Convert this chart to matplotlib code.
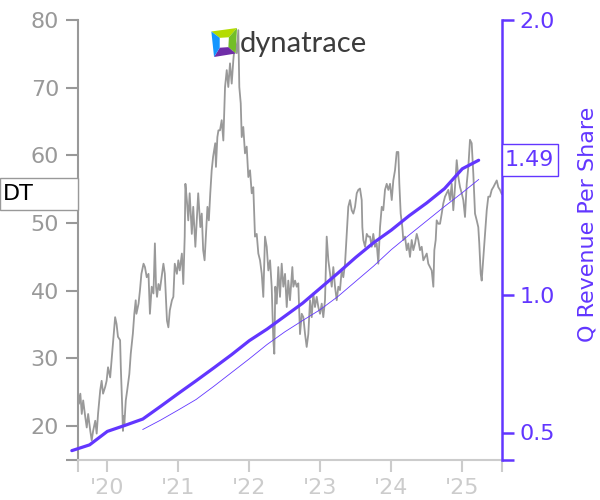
import matplotlib
matplotlib.use("Agg")
import matplotlib.pyplot as plt
import matplotlib.transforms as mtransforms
from matplotlib.patches import Polygon, Rectangle

PURPLE = "#6236FF"
GRAY = "#999999"
LIGHT = "#cccccc"

# DT share price (decimal year, USD)
price_years = [
	2019.58, 2019.60, 2019.62, 2019.64, 2019.66, 2019.69, 2019.71, 2019.73, 2019.76, 2019.78,
	2019.80, 2019.83, 2019.85, 2019.87, 2019.90, 2019.92, 2019.94, 2019.97, 2019.99, 2020.01,
	2020.04, 2020.06, 2020.08, 2020.11, 2020.13, 2020.15, 2020.18, 2020.19, 2020.21, 2020.22,
	2020.23, 2020.24, 2020.26, 2020.28, 2020.31, 2020.33, 2020.36, 2020.38, 2020.40, 2020.41,
	2020.44, 2020.46, 2020.48, 2020.51,
	2020.53, 2020.555, 2020.58, 2020.60, 2020.625, 2020.65, 2020.67, 2020.686, 2020.70, 2020.72,
	2020.74, 2020.77, 2020.79, 2020.81, 2020.84, 2020.86, 2020.88, 2020.91, 2020.93, 2020.95,
	2020.98, 2021.00, 2021.02, 2021.05, 2021.07, 2021.09, 2021.10, 2021.12, 2021.14, 2021.16,
	2021.19, 2021.21, 2021.24, 2021.26, 2021.28, 2021.31, 2021.33, 2021.35, 2021.37, 2021.39,
	2021.41, 2021.43, 2021.45, 2021.47, 2021.49, 2021.52, 2021.53, 2021.55, 2021.565,
	2021.587, 2021.611, 2021.634, 2021.658, 2021.682, 2021.704, 2021.728, 2021.752, 2021.775, 2021.799,
	2021.823, 2021.845, 2021.859, 2021.879, 2021.893, 2021.915, 2021.939, 2021.963, 2021.986, 2022.010,
	2022.034, 2022.056, 2022.080, 2022.104, 2022.127, 2022.151, 2022.175, 2022.197, 2022.221, 2022.245,
	2022.268, 2022.292, 2022.315, 2022.338, 2022.352, 2022.366, 2022.386, 2022.408, 2022.432, 2022.456,
	2022.479, 2022.503, 2022.527, 2022.549, 2022.573, 2022.606, 2022.620, 2022.644,
	2022.668, 2022.690, 2022.714, 2022.738, 2022.761, 2022.785, 2022.808, 2022.831, 2022.855, 2022.879,
	2022.901, 2022.925, 2022.949, 2022.972, 2022.996, 2023.020, 2023.042, 2023.066, 2023.090, 2023.113,
	2023.137, 2023.161, 2023.183, 2023.207, 2023.231, 2023.254, 2023.277, 2023.301, 2023.324, 2023.348,
	2023.372, 2023.394, 2023.418, 2023.442, 2023.465, 2023.489, 2023.513, 2023.535, 2023.559, 2023.583,
	2023.592, 2023.606, 2023.630, 2023.654, 2023.676,
	2023.700, 2023.724, 2023.746, 2023.770, 2023.794, 2023.817, 2023.841, 2023.865, 2023.887, 2023.911,
	2023.935, 2023.958, 2023.982, 2024.006, 2024.028, 2024.052, 2024.076, 2024.099, 2024.113, 2024.132,
	2024.155, 2024.169, 2024.193, 2024.217, 2024.239, 2024.263, 2024.287, 2024.310, 2024.334, 2024.358,
	2024.380, 2024.404, 2024.428, 2024.451, 2024.475, 2024.499, 2024.521, 2024.545, 2024.569, 2024.592,
	2024.606, 2024.625, 2024.639, 2024.662, 2024.686, 2024.710, 2024.732, 2024.756,
	2024.780, 2024.803, 2024.827, 2024.851, 2024.873, 2024.897, 2024.921, 2024.944, 2024.968, 2024.992,
	2025.014, 2025.038, 2025.062, 2025.085, 2025.108, 2025.132, 2025.155, 2025.179, 2025.203, 2025.225,
	2025.239, 2025.259, 2025.273, 2025.287, 2025.306, 2025.320, 2025.344, 2025.366, 2025.390, 2025.414,
	2025.437, 2025.461, 2025.485, 2025.507, 2025.531, 2025.555,
]
price_values = [
	26.0, 23.3, 24.8, 21.8, 23.8, 21.3, 19.8, 21.8, 19.3, 17.9,
	19.3, 20.8, 18.9, 21.9, 25.3, 26.7, 24.8, 25.8, 26.7, 28.7,
	27.2, 29.7, 32.2, 36.1, 35.1, 33.2, 32.7, 28.7, 22.8, 19.3,
	21.5, 20.3, 23.8, 25.3, 27.7, 30.7, 33.7, 36.6, 38.6, 36.6,
	38.1, 40.1, 42.5, 44.0,
	43.5, 42.0, 42.5, 36.6, 40.6, 39.6, 47.0, 40.6, 39.1, 41.0,
	40.1, 42.5, 44.0, 42.5, 35.6, 34.6, 37.1, 38.6, 39.1, 44.0,
	42.5, 44.5, 43.0, 45.5, 41.0, 48.0, 55.8, 53.4, 50.4, 54.4,
	48.4, 52.4, 46.5, 50.4, 54.4, 49.4, 51.4, 46.0, 44.5, 48.4,
	52.4, 50.4, 54.4, 57.8, 59.8, 61.8, 58.3, 62.7, 63.7,
	63.7, 65.2, 62.2, 70.1, 72.6, 70.1, 73.6, 70.6, 74.1, 77.0,
	75.1, 78.5, 70.1, 67.7, 62.7, 64.2, 60.3, 61.3, 56.8, 57.8,
	54.4, 55.3, 48.0, 48.4, 45.5, 44.5, 42.5, 39.1, 48.0, 46.5,
	43.0, 44.5, 40.6, 32.7, 30.7, 40.6, 38.1, 43.5, 39.1, 44.0,
	40.6, 42.5, 37.6, 41.5, 38.6, 43.5, 40.6, 41.5,
	40.6, 41.1, 33.6, 36.6, 36.1, 33.6, 31.7, 33.6, 38.6, 36.1,
	39.6, 37.6, 39.1, 37.6, 36.6, 38.1, 36.1, 38.6, 48.0, 44.5,
	42.5, 40.6, 43.5, 40.6, 38.6, 40.6, 40.1, 43.0, 42.0, 44.0,
	48.4, 52.4, 53.4, 51.9, 51.4, 52.4, 54.4, 54.9, 55.1, 53.4,
	49.4, 47.5, 46.5, 48.4, 48.0,
	48.0, 46.5, 48.4, 46.5, 47.0, 44.0, 49.4, 52.4, 51.9, 54.9,
	55.8, 54.9, 55.8, 53.4, 56.3, 57.8, 60.5, 60.5, 55.8, 51.4,
	49.4, 47.5, 48.0, 46.0, 47.0, 45.0, 47.5, 46.0, 47.0, 48.4,
	47.5, 46.0, 46.5, 44.5, 45.0, 45.5, 44.0, 43.5, 43.0, 40.6,
	46.0, 47.5, 50.4, 49.9, 49.9, 51.4, 52.9, 53.9,
	54.4, 54.9, 53.4, 55.8, 51.9, 55.3, 59.3, 56.8, 55.3, 54.4,
	53.4, 50.9, 55.8, 58.3, 62.3, 61.8, 57.3, 51.4, 50.4, 49.4,
	47.0, 42.5, 41.5, 43.5, 46.0, 48.4, 51.9, 53.9, 53.9, 54.9,
	55.3, 55.8, 56.3, 55.3, 54.9, 54.3,
]

# quarterly revenue per share (thick) and its trend (thin)
rev_years = [
	2019.50, 2019.75, 2020.00, 2020.25, 2020.50, 2020.75, 2021.00, 2021.25, 2021.50, 2021.75,
	2022.00, 2022.25, 2022.50, 2022.75, 2023.00, 2023.25, 2023.50, 2023.75, 2024.00, 2024.25,
	2024.50, 2024.75, 2025.00, 2025.23,
]
rev_values = [
	0.434, 0.455, 0.504, 0.526, 0.549, 0.595, 0.642, 0.688, 0.735, 0.783,
	0.834, 0.876, 0.923, 0.970, 1.025, 1.080, 1.137, 1.190, 1.236, 1.288,
	1.335, 1.387, 1.459, 1.490,
]
trend_years = [
	2020.50, 2020.75, 2021.00, 2021.25, 2021.50, 2021.75, 2022.00, 2022.25, 2022.50, 2022.75,
	2023.00, 2023.25, 2023.50, 2023.75, 2024.00, 2024.25, 2024.50, 2024.75, 2025.00, 2025.23,
]
trend_values = [
	0.511, 0.545, 0.582, 0.620, 0.668, 0.718, 0.768, 0.820, 0.866, 0.907,
	0.947, 0.995, 1.050, 1.105, 1.165, 1.218, 1.270, 1.322, 1.372, 1.420,
]

year_ticks = [2020, 2021, 2022, 2023, 2024, 2025]
year_labels = ["'20", "'21", "'22", "'23", "'24", "'25"]
price_ticks = [20, 30, 40, 50, 60, 70, 80]
rev_ticks = [0.5, 1.0, 1.5, 2.0]
rev_labels = ["0.5", "1.0", "", "2.0"]  # 1.5 sits under the last-value box

fig = plt.figure(figsize=(6, 5), dpi=100)
ax = fig.add_axes([78 / 600, 40 / 500, 424 / 600, 440 / 500])
ax2 = ax.twinx()

ax.plot(price_years, price_values, color=GRAY, lw=1.3)
ax2.plot(rev_years, rev_values, color=PURPLE, lw=2.3, clip_on=False, solid_capstyle="round")
ax2.plot(trend_years, trend_values, color=PURPLE, lw=0.6)

ax.set_xlim(2019.587, 2025.559)
ax.set_ylim(15, 80)
ax2.set_ylim(0.4, 2.0)

for a in (ax, ax2):
	a.spines["top"].set_visible(False)
ax.spines["right"].set_visible(False)
ax2.spines["left"].set_visible(False)
ax2.spines["bottom"].set_visible(False)
ax.spines["left"].set_color(GRAY)
ax.spines["left"].set_linewidth(1.5)
ax.spines["bottom"].set_color(LIGHT)
ax.spines["bottom"].set_linewidth(1.5)
ax2.spines["right"].set_color(PURPLE)
ax2.spines["right"].set_linewidth(1.8)

ax.set_xticks(year_ticks)
ax.set_xticklabels(year_labels)
ax.set_xticks([2019.587, 2025.559], minor=True)
ax.tick_params(axis="x", which="both", length=8.6, width=1.5, color=LIGHT,
	labelcolor=LIGHT, labelsize=16, pad=4)
ax.set_yticks(price_ticks)
ax.set_yticks([15], minor=True)
ax.tick_params(axis="y", which="both", length=8.6, width=1.5, color=GRAY,
	labelcolor=GRAY, labelsize=16, pad=5)

ax2.set_yticks(rev_ticks)
ax2.set_yticklabels(rev_labels)
ax2.set_yticks([0.4], minor=True)
ax2.tick_params(axis="y", which="both", length=8.6, width=1.8, color=PURPLE,
	labelcolor=PURPLE, labelsize=16, pad=4)
ax2.set_ylabel("Q Revenue Per Share", color=PURPLE, fontsize=16)
ax2.yaxis.set_label_coords(1.179, 0.536)

# last-value boxes
last_price = price_values[-1]
tr_left = mtransforms.blended_transform_factory(fig.transFigure, ax.transData)
ax.add_patch(Rectangle((0, last_price - 2.35), 78 / 600, 4.7, transform=tr_left,
	facecolor="white", edgecolor=GRAY, lw=1, clip_on=False, zorder=5))
ax.text(3 / 600, last_price, "DT", transform=tr_left, ha="left", va="center",
	fontsize=16, color="black", zorder=6, clip_on=False)

last_rev = rev_values[-1]
tr_right = mtransforms.blended_transform_factory(fig.transFigure, ax2.transData)
ax2.add_patch(Rectangle((501.7 / 600, last_rev - 0.0577), 56 / 600, 0.1154, transform=tr_right,
	facecolor="white", edgecolor=PURPLE, lw=1, clip_on=False, zorder=5))
ax2.text(505 / 600, last_rev, "1.49", transform=tr_right, ha="left", va="center",
	fontsize=16, color=PURPLE, zorder=6, clip_on=False)

# logo
logo = fig.add_axes([210 / 600, 1 - 57 / 500, 27 / 600, 29 / 500])
logo.set_xlim(0, 1)
logo.set_ylim(0, 1)
logo.axis("off")
A, B, C, D = (0.05, 0.88), (1.0, 1.0), (0.95, 0.12), (0.15, 0.0)
a, b, c, d = (0.36, 0.66), (0.7, 0.68), (0.68, 0.34), (0.36, 0.32)
logo.add_patch(Polygon([A, B, b, a], closed=True, color="#B4DC00", lw=0))
logo.add_patch(Polygon([B, C, c, b], closed=True, color="#73BE28", lw=0))
logo.add_patch(Polygon([C, D, d, c], closed=True, color="#6F2DA8", lw=0))
logo.add_patch(Polygon([D, A, a, d], closed=True, color="#1496FF", lw=0))
fig.text(240 / 600, 1 - 44 / 500, "dynatrace", fontsize=21, color="#3c3c3c",
	ha="left", va="center", family="Lato")

fig.savefig("out.png", dpi=100)
